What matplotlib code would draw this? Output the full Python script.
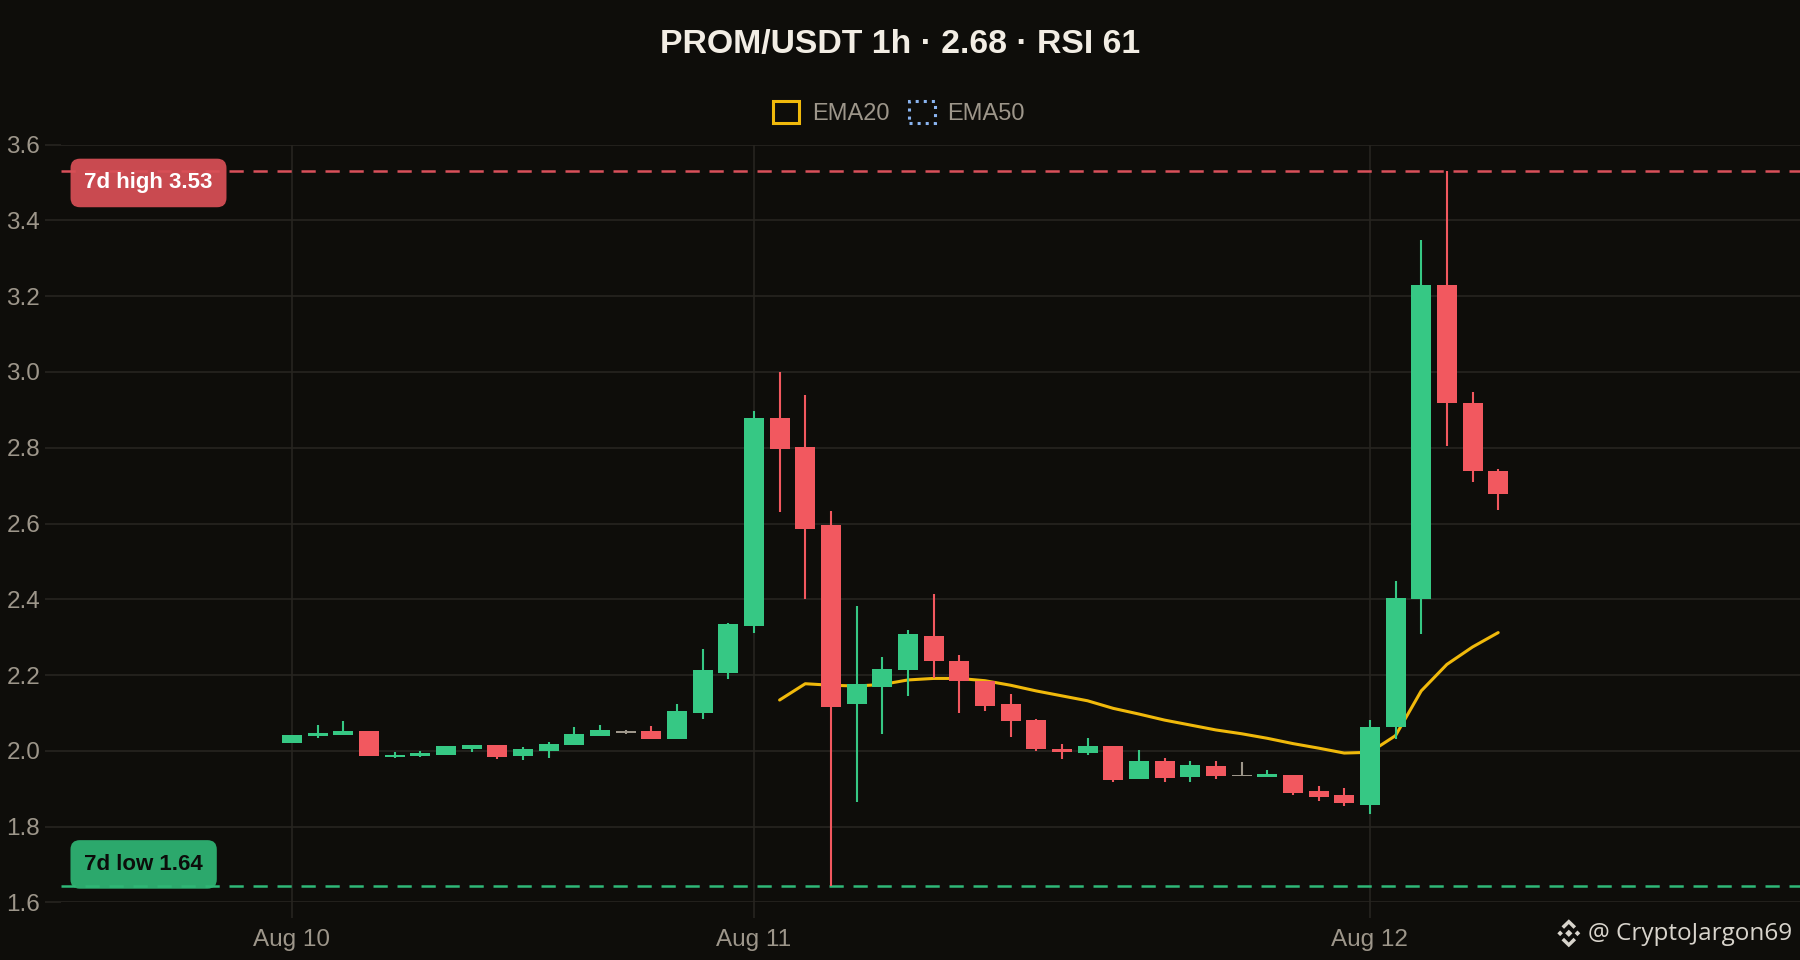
import matplotlib.pyplot as plt
import numpy as np
from matplotlib.patches import Patch, Polygon

# hourly candles, PROM/USDT
opens = [2.020, 2.039, 2.041, 2.051, 1.984, 1.987, 1.990, 2.005, 2.015, 1.985,
         1.999, 2.016, 2.039, 2.050, 2.052, 2.031, 2.100, 2.206, 2.329, 2.879,
         2.801, 2.596, 2.123, 2.169, 2.214, 2.304, 2.236, 2.185, 2.124, 2.081,
         2.004, 1.995, 2.013, 1.926, 1.972, 1.932, 1.960, 1.935, 1.932, 1.936,
         1.893, 1.883, 1.858, 2.064, 2.402, 3.230, 2.918, 2.739]
highs = [2.042, 2.068, 2.078, 2.052, 1.996, 1.999, 2.012, 2.016, 2.015, 2.009,
         2.022, 2.064, 2.068, 2.056, 2.065, 2.123, 2.270, 2.338, 2.898, 3.000,
         2.939, 2.633, 2.383, 2.247, 2.319, 2.413, 2.254, 2.185, 2.150, 2.085,
         2.017, 2.035, 2.013, 2.002, 1.981, 1.974, 1.974, 1.970, 1.949, 1.936,
         1.907, 1.902, 2.081, 2.448, 3.348, 3.530, 2.946, 2.744]
lows = [2.020, 2.034, 2.041, 1.987, 1.981, 1.984, 1.990, 1.997, 1.978, 1.976,
        1.981, 2.016, 2.039, 2.045, 2.030, 2.031, 2.083, 2.190, 2.312, 2.631,
        2.400, 1.643, 1.864, 2.044, 2.145, 2.192, 2.101, 2.106, 2.037, 2.000,
        1.977, 1.990, 1.917, 1.926, 1.918, 1.918, 1.926, 1.935, 1.932, 1.883,
        1.868, 1.854, 1.832, 2.031, 2.309, 2.804, 2.710, 2.635]
closes = [2.042, 2.047, 2.051, 1.987, 1.990, 1.994, 2.012, 2.016, 1.983, 2.004,
          2.019, 2.043, 2.054, 2.050, 2.030, 2.104, 2.214, 2.335, 2.879, 2.797,
          2.586, 2.116, 2.176, 2.217, 2.308, 2.236, 2.184, 2.118, 2.078, 2.005,
          1.998, 2.013, 1.924, 1.973, 1.929, 1.962, 1.933, 1.935, 1.940, 1.889,
          1.879, 1.861, 2.064, 2.403, 3.230, 2.918, 2.739, 2.677]

ema20_start = 19
ema20 = [2.134, 2.177, 2.173, 2.171, 2.175, 2.187, 2.191, 2.191, 2.185, 2.173,
         2.158, 2.145, 2.132, 2.112, 2.097, 2.081, 2.068, 2.055, 2.045, 2.033,
         2.019, 2.007, 1.994, 1.996, 2.040, 2.158, 2.228, 2.274, 2.312]

day_ticks = [0, 18, 42]
day_labels = ['Aug 10', 'Aug 11', 'Aug 12']
price_ticks = [1.6, 1.8, 2.0, 2.2, 2.4, 2.6, 2.8, 3.0, 3.2, 3.4, 3.6]

high_7d = 3.53
low_7d = 1.643
last_price = 2.68
rsi = 61

bg = '#0e0d0a'
grid_c = '#272520'
tick_c = '#9d968a'
up_c = '#36c884'
down_c = '#f2585f'
flat_c = '#9d968a'
ema_c = '#f0b90b'

plt.rcParams['font.family'] = ['Liberation Sans', 'DejaVu Sans']

fig = plt.figure(figsize=(18, 9.6), dpi=100, facecolor=bg)
ax = fig.add_axes([61 / 1800, 1 - 902.3 / 960, 1 - 61 / 1800, 757.6 / 960])
ax.set_facecolor(bg)

o = np.array(opens)
h = np.array(highs)
l = np.array(lows)
c = np.array(closes)
x = np.arange(len(o))
cols = np.where(c > o, up_c, np.where(c < o, down_c, flat_c))

# wicks then bodies
ax.vlines(x, l, h, colors=cols, lw=1.5, zorder=3)
body_h = np.maximum(np.abs(c - o), 0.004)
ax.bar(x, body_h, bottom=np.minimum(o, c) - np.where(c == o, 0.002, 0), width=0.78,
       color=cols, lw=0, zorder=4)

ax.plot(np.arange(ema20_start, ema20_start + len(ema20)), ema20, color=ema_c, lw=2.2,
        zorder=2, solid_capstyle='round')

# 7d high / low
ax.axhline(high_7d, color='#d9505a', lw=1.8, dashes=(5.7, 3.9), zorder=1)
ax.axhline(low_7d, color='#2fb878', lw=1.8, dashes=(5.7, 3.9), zorder=1)
ax.text(-5.59, 3.499, f'7d high {high_7d:.2f}', ha='center', va='center', fontsize=16,
        weight='bold', color='white', zorder=6,
        bbox=dict(boxstyle='round,pad=0.62,rounding_size=0.42', fc='#d84f56', ec='none', alpha=0.93))
ax.text(-5.78, 1.700, f'7d low {low_7d:.2f}', ha='center', va='center', fontsize=16,
        weight='bold', color='#0c0c0a', zorder=6,
        bbox=dict(boxstyle='round,pad=0.62,rounding_size=0.42', fc='#2fb574', ec='none', alpha=0.93))

ax.set_xlim(-9.0, 58.76)
ax.set_ylim(1.6, 3.6)
ax.set_xticks(day_ticks)
ax.set_xticklabels(day_labels)
ax.set_yticks(price_ticks)
ax.set_yticklabels([f'{v:.1f}' for v in price_ticks])
ax.grid(True, color=grid_c, lw=1.2, zorder=0)
ax.set_axisbelow(True)
for s in ax.spines.values():
    s.set_visible(False)
ax.tick_params(axis='both', length=11.5, width=1.2, color=grid_c, labelcolor=tick_c,
               labelsize=17.5)
ax.tick_params(axis='y', pad=3.5)
ax.tick_params(axis='x', pad=7.5)

fig.text(0.5, 1 - 53.3 / 960, f'PROM/USDT 1h · {last_price:.2f} · RSI {rsi}', ha='center',
         va='baseline', fontsize=24.3, weight='bold', color='#f2ede4')

handles = [Patch(facecolor='none', edgecolor=ema_c, lw=2.2, label='EMA20'),
           Patch(facecolor='none', edgecolor='#8ab4f0', lw=2.2, ls=':', label='EMA50')]
fig.legend(handles=handles, loc='center', bbox_to_anchor=(0.4995, 1 - 112.7 / 960), ncol=2,
           frameon=False, fontsize=17, labelcolor=tick_c, handlelength=1.1,
           handleheight=1.1, handletextpad=0.54, columnspacing=0.83)

# watermark with small binance-style logo
cx, cy, r = 1568.8, 933.3, 14.0
shapes = [
    [(0, 0.26), (0.26, 0), (0, -0.26), (-0.26, 0)],
    [(-0.62, 0.2), (-0.42, 0), (-0.62, -0.2), (-0.82, 0)],
    [(0.62, 0.2), (0.82, 0), (0.62, -0.2), (0.42, 0)],
    [(-0.52, 0.5), (0, 1.0), (0.52, 0.5), (0.34, 0.32), (0, 0.66), (-0.34, 0.32)],
    [(-0.52, -0.5), (0, -1.0), (0.52, -0.5), (0.34, -0.32), (0, -0.66), (-0.34, -0.32)],
]
for pts in shapes:
    poly = [((cx + px * r) / 1800, 1 - (cy - py * r) / 960) for px, py in pts]
    fig.add_artist(Polygon(poly, closed=True, transform=fig.transFigure, fc='#d8d4cc', ec='none'))
fig.text(1588 / 1800, 1 - 934 / 960, '@ CryptoJargon69', ha='left', va='center',
         fontsize=17.5, color='#d8d4cc', family=['Open Sans', 'DejaVu Sans'])

fig.savefig('out.png', dpi=100, facecolor=bg)
